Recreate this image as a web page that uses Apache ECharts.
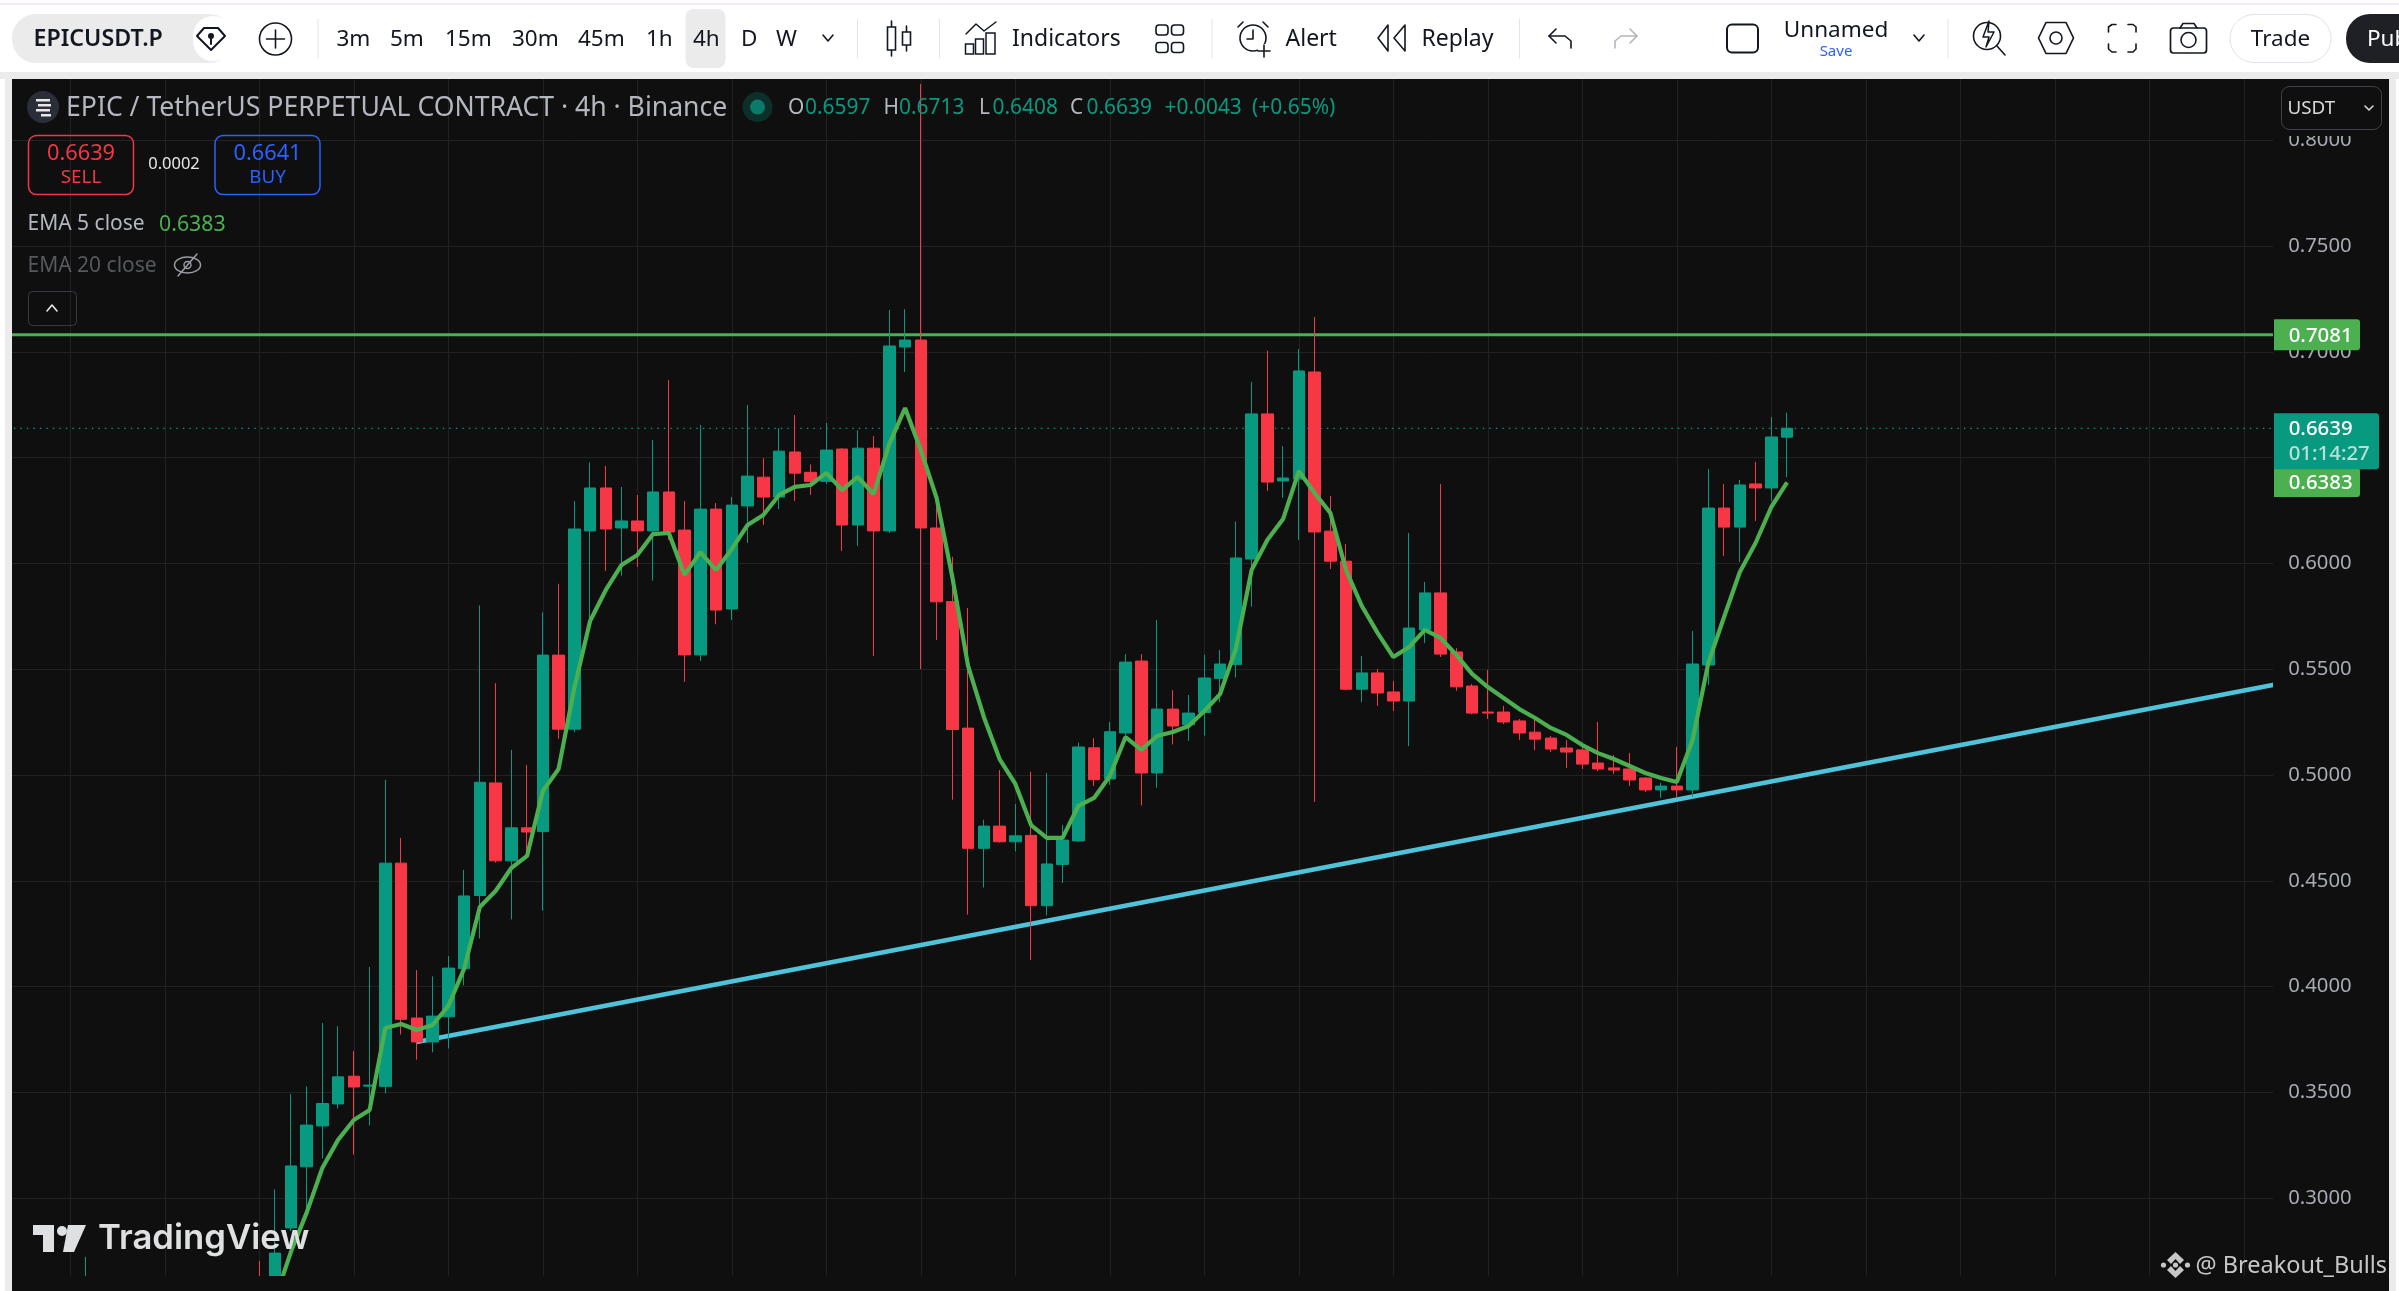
<!DOCTYPE html>
<html><head><meta charset="utf-8">
<style>html,body{margin:0;padding:0;background:#fff;overflow:hidden}#c{width:2399px;height:1291px}</style>
<script src="https://cdn.jsdelivr.net/npm/echarts@6/dist/echarts.min.js"></script>
</head><body><div id="c"></div>
<script>
// ---- data (EPICUSDT.P 4h) ----
const barsHidden = 16;              // bars left of the first listed one
const earlyBar = {index: 5, values: [0.2500, 0.2550, 0.2450, 0.2723]}; // open, close, low, high (only the wick tip is visible)
const opens = [0.2550,0.2550,0.2860,0.3149,0.3342,0.3446,0.3577,0.3530,0.3529,0.4584,
0.3852,0.3739,0.3858,0.4085,0.4431,0.4963,0.4595,0.4751,0.4733,0.5567,
0.5217,0.6154,0.6357,0.6168,0.6201,0.6154,0.6338,0.6158,0.5568,0.6257,
0.5785,0.6272,0.6408,0.6314,0.6527,0.6431,0.6388,0.6541,0.6182,0.6545,
0.6154,0.7023,0.7056,0.6168,0.5820,0.5222,0.4654,0.4759,0.4685,0.4715,
0.4383,0.4578,0.4689,0.5129,0.4982,0.5199,0.5539,0.5010,0.5312,0.5238,
0.5296,0.5457,0.5523,0.6021,0.6707,0.6390,0.6399,0.6905,0.6153,0.6011,
0.5406,0.5483,0.5393,0.5350,0.5686,0.5861,0.5582,0.5421,0.5298,0.5298,
0.5256,0.5203,0.5175,0.5128,0.5119,0.5057,0.5034,0.5029,0.4986,0.4930,
0.4948,0.4930,0.5520,0.6262,0.6172,0.6376,0.6357,0.6597];
const closes = [0.2520,0.2741,0.3153,0.3346,0.3448,0.3574,0.3526,0.3535,0.4584,0.3846,
0.3739,0.3861,0.4088,0.4429,0.4966,0.4595,0.4751,0.4731,0.5567,0.5217,
0.6163,0.6357,0.6163,0.6201,0.6154,0.6338,0.6149,0.5568,0.6257,0.5780,
0.6276,0.6413,0.6314,0.6531,0.6427,0.6388,0.6536,0.6182,0.6545,0.6154,
0.7028,0.7056,0.6168,0.5819,0.5215,0.4654,0.4759,0.4685,0.4713,0.4383,
0.4580,0.4693,0.5133,0.4978,0.5205,0.5534,0.5010,0.5312,0.5232,0.5293,
0.5459,0.5525,0.6026,0.6707,0.6385,0.6404,0.6910,0.6149,0.6011,0.5406,
0.5483,0.5388,0.5350,0.5695,0.5861,0.5572,0.5417,0.5293,0.5293,0.5251,
0.5199,0.5170,0.5123,0.5109,0.5052,0.5029,0.5024,0.4977,0.4930,0.4948,
0.4930,0.5525,0.6262,0.6172,0.6371,0.6357,0.6598,0.6639];
const lows = [0.2450,0.2500,0.2845,0.2921,0.3189,0.3424,0.3207,0.3344,0.3496,0.3774,
0.3655,0.3690,0.3708,0.4007,0.4228,0.4586,0.4318,0.4616,0.4360,0.5172,
0.5202,0.5705,0.5965,0.5942,0.5984,0.5919,0.6112,0.5440,0.5539,0.5713,
0.5733,0.6097,0.6182,0.6257,0.6295,0.6324,0.6376,0.6059,0.6083,0.5563,
0.6144,0.6905,0.5501,0.5639,0.4884,0.4341,0.4469,0.4681,0.4640,0.4126,
0.4337,0.4490,0.4685,0.4948,0.4954,0.5180,0.4856,0.4940,0.5145,0.5162,
0.5187,0.5344,0.5461,0.5796,0.6343,0.6310,0.6111,0.4873,0.5974,0.5401,
0.5345,0.5327,0.5303,0.5137,0.5624,0.5558,0.5398,0.5288,0.5265,0.5241,
0.5166,0.5118,0.5109,0.5034,0.5029,0.5019,0.5005,0.4948,0.4920,0.4892,
0.4897,0.4897,0.5426,0.6035,0.6007,0.6201,0.6295,0.6408];
const highs = [0.2704,0.3042,0.3493,0.3529,0.3828,0.3813,0.3696,0.4093,0.4978,0.4703,
0.4079,0.4049,0.4145,0.4552,0.5802,0.5435,0.5119,0.5048,0.5769,0.5904,
0.6295,0.6478,0.6461,0.6362,0.6324,0.6583,0.6867,0.6295,0.6654,0.6286,
0.6314,0.6749,0.6498,0.6640,0.6702,0.6468,0.6664,0.6545,0.6630,0.6602,
0.7198,0.7202,0.8266,0.6333,0.6031,0.5790,0.4789,0.5024,0.4864,0.5016,
0.5010,0.4765,0.5153,0.5175,0.5251,0.5572,0.5572,0.5733,0.5402,0.5379,
0.5569,0.5591,0.6199,0.6858,0.7006,0.6555,0.7014,0.7165,0.6319,0.6092,
0.5563,0.5501,0.5445,0.6144,0.5913,0.6376,0.5600,0.5431,0.5497,0.5327,
0.5265,0.5279,0.5185,0.5166,0.5152,0.5251,0.5095,0.5105,0.4991,0.4963,
0.5133,0.5681,0.6447,0.6376,0.6395,0.6480,0.6692,0.6713];
const ema5 = [null,0.2524,0.2746,0.2931,0.3143,0.3276,0.3370,0.3417,0.3805,0.3824,
0.3795,0.3819,0.3909,0.4084,0.4377,0.4452,0.4561,0.4618,0.4925,0.5029,
0.5412,0.5728,0.5875,0.5993,0.6040,0.6139,0.6144,0.5946,0.6054,0.5969,
0.6069,0.6182,0.6229,0.6324,0.6362,0.6371,0.6428,0.6347,0.6409,0.6328,
0.6565,0.6735,0.6536,0.6310,0.5936,0.5516,0.5275,0.5076,0.4958,0.4764,
0.4703,0.4703,0.4854,0.4892,0.4996,0.5180,0.5119,0.5185,0.5204,0.5232,
0.5303,0.5383,0.5596,0.5969,0.6111,0.6210,0.6437,0.6333,0.6239,0.5969,
0.5799,0.5672,0.5558,0.5605,0.5686,0.5648,0.5568,0.5478,0.5416,0.5364,
0.5312,0.5270,0.5223,0.5190,0.5142,0.5104,0.5076,0.5043,0.5010,0.4986,
0.4967,0.5166,0.5530,0.5747,0.5960,0.6097,0.6267,0.6383];
const totalBars = 145;
const trendLine = [[26, 0.3739], [144, 0.5428]];
const resistance = 0.7081;
const lastPrice = 0.6639;
const lastEma = 0.6383;
const countdown = '01:14:27';
const timeframes = ['3m','5m','15m','30m','45m','1h','4h','D','W'];
const ohlc = {O:'0.6597', H:'0.6713', L:'0.6408', C:'0.6639'};

// ---- colours / layout ----
const UP='#089981', DOWN='#f73646', EMA='#4caf50', CYAN='#4fc3d9', BG='#0f0f0f', GRID='#222222', INK='#131722', FONT='"Noto Sans"';
const bars = [];
for (let k=0;k<barsHidden;k++) bars.push(k===earlyBar.index ? earlyBar.values : ['-','-','-','-']);
opens.forEach((o,i)=>bars.push([o,closes[i],lows[i],highs[i]]));
const emaData = new Array(barsHidden).fill(null).concat(ema5);
const cats = Array.from({length:totalBars},(_,k)=>String(k));

const g=[];
const Z=100;
function rect(x,y,w,h,fill,o={}){g.push({type:'rect',silent:true,z:o.z||Z,shape:{x,y,width:w,height:h,r:o.r||0},style:{fill:fill||'none',stroke:o.stroke||null,lineWidth:o.lw||1}});}
function text(x,y,s,font,fill,o={}){g.push({type:'text',silent:true,z:o.z||Z+2,style:{x,y:y+1.5,text:s,font:font,fill,textAlign:o.align||'left',textVerticalAlign:'middle',opacity:o.op==null?1:o.op}});}
function poly(pts,stroke,lw,o={}){g.push({type:'polyline',silent:true,z:o.z||Z+1,shape:{points:pts},style:{stroke,lineWidth:lw||2,fill:'none',lineCap:'round',lineJoin:'round'}});}
function pgon(pts,fill,stroke,lw,o={}){g.push({type:'polygon',silent:true,z:o.z||Z+1,shape:{points:pts},style:{fill:fill||'none',stroke:stroke||null,lineWidth:lw||2,lineJoin:'round',opacity:o.op==null?1:o.op}});}
function circ(cx,cy,r,fill,stroke,lw,o={}){g.push({type:'circle',silent:true,z:o.z||Z+1,shape:{cx,cy,r},style:{fill:fill||'none',stroke:stroke||null,lineWidth:lw||2}});}
const f=(sz,w)=>(w?w+' ':'')+sz+'px '+FONT;

// masks that give the pane its edges
rect(0,0,2399,72,'#ffffff');
rect(0,3,2399,2,'#f4e9f6');
rect(0,72,2399,7,'#ebebeb');
rect(0,79,5,1212,'#ffffff');
rect(5,79,7,1212,'#ebebeb');
rect(2389,79,7,1212,'#ebebeb',{z:Z+5});
rect(2396,79,3,1212,'#ffffff',{z:Z+5});
rect(12,1276,2377,15,BG);
rect(2273,79,11,1197,BG);
rect(2284,79,105,57,BG);

// toolbar
rect(12,14,221,49,'#ebebeb',{r:24});
rect(193,16,40,45,'#ffffff',{r:21});
text(33.5,37.5,'EPICUSDT.P',f(23.2,600),INK);
pgon([[204,28],[218,28],[225,36],[211,50],[197,36]],null,INK,2);
circ(211,36,3,INK); poly([[211,37],[211,44]],INK,2);
circ(275.5,39,16,null,INK,1.6);
poly([[275.5,30],[275.5,48]],INK,1.6); poly([[266.5,39],[284.5,39]],INK,1.6);
[317.5,857,939,1211.5,1519,1947.5].forEach(x=>rect(x,19,1,39,'#e0e3eb'));
rect(685.5,9,40,59,'#ebebeb',{r:8});
const tfX=[336.5,390,445,512,578,646,693,741,776];
timeframes.forEach((t,i)=>text(tfX[i],38,t,f(22.5),INK));
poly([[823,35],[828,41],[833,35]],INK,1.6);
// candle icon
poly([[891.5,21],[891.5,56]],INK,1.6); rect(887.5,27,8,23,'#fff',{stroke:INK,lw:1.6,z:Z+2});
poly([[906.5,26],[906.5,51]],INK,1.6); rect(902.5,32,8,13,'#fff',{stroke:INK,lw:1.6,z:Z+2});
// indicators icon
[[965.5,44,8,10],[975.5,39,8,15],[986,33,9,21]].forEach(b=>rect(b[0],b[1],b[2],b[3],'#fff',{stroke:INK,lw:1.5,z:Z+1}));
poly([[966,34],[976,24],[984,31],[996,22]],INK,1.5);
text(1012,38,'Indicators',f(23),INK);
[[1156,25],[1171.5,25],[1156,42.5],[1171.5,42.5]].forEach(b=>rect(b[0],b[1],12,10,'#fff',{stroke:INK,lw:1.6,r:3,z:Z+1}));
// alert
circ(1253,38,13,null,INK,1.6); poly([[1253,30],[1253,39],[1247,39]],INK,1.6);
poly([[1238,27],[1243,22]],INK,1.6); poly([[1263,22],[1268,27]],INK,1.6);
rect(1258,44,12,12,'#fff',{z:Z+1}); poly([[1264,45],[1264,57]],INK,1.6); poly([[1258,51],[1270,51]],INK,1.6);
text(1285.5,38,'Alert',f(23),INK);
// replay
pgon([[1388,25],[1378,38],[1388,51]],null,INK,1.6); pgon([[1405,25],[1394,38],[1405,51]],null,INK,1.6);
text(1421.5,38,'Replay',f(23),INK);
// undo redo
poly([[1556,29],[1549,36],[1556,43]],INK,1.6); poly([[1549,36],[1565,36],[1571,41],[1571,48]],INK,1.6);
poly([[1630,29],[1637,36],[1630,43]],'#b2b5be',1.6); poly([[1637,36],[1621,36],[1615,41],[1615,48]],'#b2b5be',1.6);
// layout
rect(1727,24.5,31,28,'#fff',{stroke:INK,lw:2,r:5,z:Z+1});
text(1836,29,'Unnamed',f(22.5),INK,{align:'center'});
text(1836,50,'Save',f(15),'#2962ff',{align:'center'});
poly([[1914,35],[1919,41],[1924,35]],INK,1.6);
// quick search
circ(1987,36,13.5,'#fff',INK,1.6);
pgon([[1989,21],[1983,37],[1989,37],[1986,47],[1994,32],[1988,32]],'#fff',INK,1.5);
poly([[1997,46],[2005,55]],INK,1.6);
// settings
pgon([[2046,22.5],[2066,22.5],[2073.5,38],[2066,53.5],[2046,53.5],[2038.5,38]],null,INK,1.7);
circ(2056,38,6,null,INK,1.6);
// fullscreen
poly([[2108.5,32],[2108.5,27],[2112,24.5],[2116,24.5]],INK,1.6); poly([[2128,24.5],[2133,24.5],[2136,27],[2136,32]],INK,1.6);
poly([[2108.5,44],[2108.5,49],[2112,52],[2116,52]],INK,1.6); poly([[2128,52],[2133,52],[2136,49],[2136,44]],INK,1.6);
// camera
rect(2170.5,28,36,25,'#fff',{stroke:INK,lw:1.7,r:3,z:Z+1});
poly([[2180,28],[2183,23.5],[2194,23.5],[2197,28]],INK,1.6,{z:Z+2});
circ(2188.5,40,7.5,null,INK,1.6,{z:Z+2});
// trade / publish
rect(2230,14.5,101,48,'#fff',{stroke:'#e0e3eb',lw:1,r:24});
text(2280.5,38,'Trade',f(22.5),INK,{align:'center'});
rect(2346,14,120,49,'#1e2026',{r:24});
text(2367,38,'Publish',f(22.5),'#ffffff');

// pane legend
const LEG='#b4b7bf';
circ(43,107,16,'#2a2e39');
[[36,99,14],[38,104,13],[36,109,14],[41,114,10]].forEach(l=>rect(l[0],l[1],l[2],2.5,'#e8e8e8',{z:Z+2}));
text(66,107,'EPIC / TetherUS PERPETUAL CONTRACT · 4h · Binance',f(26.6),LEG);
circ(757.5,107,15,'#0c2f2a'); circ(757.5,107,7.5,'#0a7a69',null,0,{z:Z+2});
[['O',788,'O',805],['H',883.5,'H',899],['L',979,'L',992.5],['C',1070,'C',1086.5]].forEach(r=>{
  text(r[1],107,r[0],f(20.9),LEG); text(r[3],107,ohlc[r[2]],f(20.9),UP);
});
text(1164.5,107,'+0.0043',f(20.9),UP);
text(1252,107,'(+0.65%)',f(20.9),UP);
rect(28.5,135.5,105,59,null,{stroke:'#f23645',lw:1.5,r:8});
text(81,152.5,'0.6639',f(21.8),'#f23645',{align:'center'});
text(81,176.5,'SELL',f(18.8),'#f23645',{align:'center'});
text(174,163,'0.0002',f(16.5),'#e8e8e8',{align:'center'});
rect(215,135.5,105,59,null,{stroke:'#2962ff',lw:1.5,r:8});
text(267.5,152.5,'0.6641',f(21.8),'#2962ff',{align:'center'});
text(267.5,176.5,'BUY',f(18.8),'#2962ff',{align:'center'});
text(27.5,223,'EMA 5 close',f(21),LEG);
text(159,223,'0.6383',f(21.3),EMA);
text(27.5,265,'EMA 20 close',f(21),'#55585f');
// eye icon
g.push({type:'ellipse',silent:true,z:Z+1,shape:{cx:187.5,cy:265,rx:13,ry:8},style:{fill:'none',stroke:'#9a9da5',lineWidth:1.5}});
circ(187.5,265,3.5,null,'#9a9da5',1.4); poly([[178,276],[197,254]],'#9a9da5',1.5);
rect(28.5,291.5,48,34,null,{stroke:'#363a45',lw:1,r:4});
poly([[47,311],[52,305],[57,311]],'#e8e8e8',1.6);
// USDT
rect(2281.5,86.5,100,43,BG,{stroke:'#40434b',lw:1,r:8});
text(2287.5,107.5,'USDT',f(18.8),'#d8d9dc');
poly([[2365,106],[2369,110],[2373,106]],'#d8d9dc',1.6);

// TradingView watermark
const WM='#dfe0e1';
pgon([[33,1225],[54,1225],[54,1252],[43,1252],[43,1235],[33,1235]],WM,null,0,{z:Z+3});
circ(62,1231,5,WM,null,0,{z:Z+3});
pgon([[68,1225],[86,1225],[74,1252],[63,1252]],WM,null,0,{z:Z+3});
text(98,1237.5,'TradingView','600 34.7px Inter',WM,{z:Z+3});
// Binance mark + signature
pgon([[2175.5,1252],[2184,1260],[2180,1264],[2175.5,1259],[2171,1264],[2167,1260]],'#c6c7c9',null,0,{z:Z+3});
pgon([[2175.5,1278],[2184,1270],[2180,1266],[2175.5,1271],[2171,1266],[2167,1270]],'#c6c7c9',null,0,{z:Z+3});
circ(2175.5,1265,2.6,'#c6c7c9',null,0,{z:Z+3}); circ(2163.5,1265,2.6,'#c6c7c9',null,0,{z:Z+3}); circ(2187.5,1265,2.6,'#c6c7c9',null,0,{z:Z+3});
text(2195.5,1265,'@ Breakout_Bulls',f(23.5),'#c6c7c9',{z:Z+3});

// price tags are positioned from the value axis
const tags=[
 {price:resistance,color:EMA,w:86,h:31,lines:[[resistance.toFixed(4),'#fff']]},
 {price:lastEma,color:EMA,w:86,h:29,lines:[[lastEma.toFixed(4),'#fff']]},
 {price:lastPrice,color:UP,w:105,h:56,top:15,lines:[[lastPrice.toFixed(4),'#fff'],[countdown,'rgba(255,255,255,0.7)']]}
];
const option={
 animation:false,
 backgroundColor:BG,
 grid:{left:-0.55,top:34.5,width:2283.75,height:1269.6,containLabel:false,outerBoundsMode:'none',show:false},
 xAxis:{type:'category',data:cats,boundaryGap:true,axisLine:{show:false},axisTick:{show:false},axisLabel:{show:false},
   splitLine:{show:true,alignWithLabel:true,interval:(i)=>i%6===4,lineStyle:{color:GRID,width:1}}},
 yAxis:{type:'value',position:'right',min:0.25,max:0.85,interval:0.05,scale:true,axisLine:{show:false},axisTick:{show:false},
   axisLabel:{margin:5,color:'#a8abb3',fontFamily:FONT,fontSize:20.3,padding:[3,0,0,0],formatter:v=>v.toFixed(4)},
   splitLine:{show:true,lineStyle:{color:GRID,width:1}}},
 graphic:{elements:g},
 series:[
  {type:'line',name:'last',data:[[0,lastPrice],[144,lastPrice]],symbol:'none',z:1,lineStyle:{color:UP,width:1.2,type:[1.5,5]}},
  {type:'candlestick',name:'EPICUSDT.P',data:bars,barWidth:12,z:3,itemStyle:{color:UP,color0:DOWN,borderColor:UP,borderColor0:DOWN,borderWidth:1}},
  {type:'line',name:'EMA 5',data:emaData,symbol:'none',z:4,connectNulls:false,lineStyle:{color:EMA,width:4.2}},
  {type:'line',name:'Trend',data:trendLine,symbol:'none',z:2,lineStyle:{color:CYAN,width:4.6}},
  {type:'line',name:'Resistance',data:[[0,resistance],[144,resistance]],symbol:'none',z:2,lineStyle:{color:EMA,width:3}},
  {type:'custom',name:'tags',z:Z+4,coordinateSystem:'cartesian2d',data:tags.map(t=>[0,t.price]),clip:false,silent:true,
   renderItem:(p,api)=>{
     const t=tags[p.dataIndex];const cy=api.coord([0,api.value(1)])[1];
     const top=t.top!=null?cy-t.top:cy-t.h/2;
     const kids=[{type:'rect',shape:{x:2274,y:top,width:t.w,height:t.h,r:[0,3,3,0]},style:{fill:t.color}}];
     t.lines.forEach((l,i)=>kids.push({type:'text',style:{x:2288.7,y:(t.top!=null?top+15+i*25:cy)+1,text:l[0],fill:l[1],font:f(20.4,500),textVerticalAlign:'middle'}}));
     return {type:'group',children:kids};
   }}
 ]
};
const chart=echarts.init(document.getElementById('c'),null,{renderer:'canvas',width:2399,height:1291});
chart.setOption(option);
</script></body></html>
